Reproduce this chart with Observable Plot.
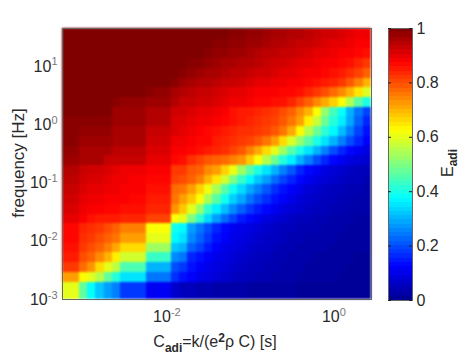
<!DOCTYPE html>
<html><head><meta charset="utf-8">
<script src="https://cdn.jsdelivr.net/npm/d3@7"></script>
<script src="https://cdn.jsdelivr.net/npm/@observablehq/plot@0.6"></script>
<style>
html,body{margin:0;padding:0;background:#fff}
#wrap{position:relative;width:474px;height:356px;overflow:hidden}
#wrap svg{position:absolute;left:0;top:0;background:transparent;overflow:visible}
</style></head><body><div id="wrap"></div>
<script>
// log10 of the cell edges
const cadiLogEdges = [-3.25,-3.15,-3.05,-2.95,-2.85,-2.75,-2.65,-2.55,-2.45,-2.35,-2.25,-2.15,-2.05,-1.95,-1.85,-1.75,-1.65,-1.55,-1.45,-1.35,-1.25,-1.15,-1.05,-0.95,-0.85,-0.75,-0.65,-0.55,-0.45,-0.35,-0.25,-0.15,-0.05,0.05,0.15,0.25,0.35,0.45];
const freqLogEdges = [1.65,1.467,1.3,1.133,0.967,0.8,0.633,0.467,0.3,0.133,-0.033,-0.2,-0.367,-0.533,-0.7,-0.867,-1.033,-1.2,-1.367,-1.533,-1.7,-1.867,-2.033,-2.2,-2.367,-2.533,-2.7,-3];
// E_adi x 100, one row per frequency band, top to bottom
const r00=[100,100,100,100,100,100,100,100,100,100,100,100,100,100,100,100,100,100,100,100,99,99,98,98,97,96,96,95,95,94,93,92,92,91,90,89,89];
const r01=[100,100,100,100,100,100,100,100,100,100,100,100,100,100,100,100,100,100,99,99,98,98,97,97,96,95,95,94,93,93,92,91,90,90,89,88,88];
const r02=[100,100,100,100,100,100,100,100,100,100,100,100,100,100,100,100,100,99,98,98,97,97,96,95,94,94,93,93,92,91,90,90,89,88,88,87,86];
const r03=[100,100,100,100,100,100,100,100,100,100,100,100,100,100,100,99,99,98,97,96,96,95,95,94,93,92,92,91,90,90,89,88,88,87,86,84,82];
const r04=[100,100,100,100,100,100,100,100,100,100,100,100,100,100,99,98,97,96,96,95,94,94,93,92,92,91,90,90,89,88,88,87,86,85,83,81,78];
const r05=[100,100,100,100,100,100,100,100,100,100,100,100,100,99,97,96,95,95,94,93,93,92,91,90,90,89,89,88,88,87,86,85,84,82,79,75,70];
const r06=[100,100,100,100,100,100,100,100,100,100,99,98,98,96,95,94,93,93,92,91,90,90,89,88,88,88,87,87,86,84,82,80,77,74,70,65,59];
const r07=[100,100,100,100,100,100,99,98,98,98,97,97,97,95,93,93,92,92,91,90,89,89,88,87,87,86,86,84,81,78,74,71,67,62,55,46,40];
const r08=[100,100,100,100,100,100,97,97,97,97,95,95,95,92,92,91,90,90,89,88,86,85,85,84,83,82,80,78,74,70,62,52,44,38,30,24,19];
const r09=[99,99,99,99,99,99,97,97,97,97,95,95,95,91,91,90,89,89,88,87,86,85,84,83,82,81,79,76,72,64,57,48,41,36,29,22,16];
const r10=[99,99,98,98,98,98,96,96,96,96,93,93,93,91,90,89,88,87,86,85,84,83,83,82,81,79,76,71,63,55,48,42,37,31,25,19,14];
const r11=[99,99,97,97,97,97,96,96,96,96,92,92,92,89,89,88,87,87,85,84,83,82,81,79,76,72,66,59,52,46,40,35,30,25,20,16,12];
const r12=[98,98,96,96,96,96,94,94,94,94,91,91,91,88,88,87,86,85,84,83,81,79,75,71,66,60,53,46,40,35,30,25,20,16,13,11,9];
const r13=[97,97,96,96,96,93,93,93,93,93,90,90,90,87,86,83,81,79,78,77,75,73,68,62,55,48,41,36,30,25,20,16,13,11,9,8,7];
const r14=[95,95,93,92,92,91,90,89,89,89,88,88,88,82,82,79,78,74,72,67,61,53,46,40,35,30,25,21,16,13,11,9,8,7,6,5,5];
const r15=[94,94,92,91,91,90,89,89,88,88,87,87,87,81,80,78,75,70,65,58,50,43,37,32,28,23,19,16,13,11,9,8,7,6,5,5,4];
const r16=[93,93,91,90,90,89,89,88,88,88,86,86,86,77,76,72,67,61,54,46,39,34,29,25,21,17,14,12,10,8,7,6,5,5,4,4,3];
const r17=[92,92,90,89,89,88,88,88,87,87,85,85,85,76,72,68,62,54,46,39,33,29,24,20,17,14,12,10,8,7,6,5,5,4,4,3,3];
const r18=[91,91,89,88,88,87,87,86,86,86,84,84,84,73,68,60,52,42,36,31,26,22,18,15,13,11,9,8,7,6,5,5,4,4,3,3,3];
const r19=[90,90,88,86,85,85,85,84,84,84,81,81,81,62,60,50,42,34,28,23,19,15,13,11,9,8,7,6,5,5,4,4,3,3,3,2,2];
const r20=[87,87,84,83,82,80,78,75,75,75,62,62,62,39,37,28,24,20,16,13,11,10,9,8,7,6,5,5,4,4,4,3,3,3,2,2,2];
const r21=[87,87,83,82,80,78,76,72,72,72,60,60,60,37,35,26,22,18,14,12,10,9,8,7,6,6,5,4,4,3,3,3,3,2,2,2,2];
const r22=[86,86,82,80,78,75,71,66,66,66,53,53,53,32,30,22,19,15,12,10,9,8,7,6,6,5,4,4,3,3,3,3,2,2,2,2,2];
const r23=[85,85,80,78,74,70,64,58,58,58,43,43,43,26,24,16,14,12,10,9,8,7,6,5,5,4,4,3,3,3,2,2,2,2,2,1,1];
const r24=[82,82,77,73,66,60,56,45,45,45,30,30,30,20,18,14,12,10,9,8,7,6,5,5,4,4,3,3,3,2,2,2,2,2,1,1,1];
const r25=[72,72,63,60,55,47,41,35,35,35,24,24,24,17,14,12,10,9,8,7,6,5,5,4,4,3,3,3,2,2,2,2,2,1,1,1,1];
const r26=[60,60,47,38,32,28,25,18,18,18,11,11,11,7,5,5,4,4,3,3,3,3,2,2,2,2,2,2,1,1,1,1,1,1,1,1,1];
const rows=[r00,r01,r02,r03,r04,r05,r06,r07,r08,r09,r10,r11,r12,r13,r14,r15,r16,r17,r18,r19,r20,r21,r22,r23,r24,r25,r26];

const xTicks=[0.01,1];
const yTicks=[10,1,0.1,0.01,0.001];
const barTicks=[0,0.2,0.4,0.6,0.8,1];
const jetStops=[0,0.125,0.375,0.625,0.875,1];
const jetColors=["#00008f","#0000ff","#00ffff","#ffff00","#ff0000","#800000"];

const FONT='"Liberation Sans",Arial,sans-serif', INK="#2a2a2a", EDGE="#666";
const colorScale={type:"linear",domain:jetStops,range:jetColors,clamp:true};

const cells=[];
rows.forEach((row,i)=>row.forEach((v,j)=>cells.push({
  x1:10**cadiLogEdges[j],x2:10**cadiLogEdges[j+1],
  y1:10**freqLogEdges[i+1],y2:10**freqLogEdges[i],e:v/100})));

const pow=d=>"10^"+Math.round(Math.log10(d));
const main=Plot.plot({
  width:474,height:356,marginLeft:62,marginRight:103,marginTop:28,marginBottom:57,
  style:{background:"transparent",fontFamily:FONT,fontSize:"16px",color:INK},
  x:{type:"log",domain:[10**-3.25,10**0.45]},
  y:{type:"log",domain:[10**-3,10**1.65]},
  color:colorScale,
  marks:[
    Plot.rect(cells,{x1:"x1",x2:"x2",y1:"y1",y2:"y2",fill:"e",shapeRendering:"crispEdges"}),
    Plot.frame({stroke:EDGE}),
    Plot.axisX({ticks:xTicks,tickFormat:pow,tickSize:0,tickPadding:11,label:null,fontSize:16,fill:INK}),
    Plot.axisY({ticks:yTicks,tickFormat:pow,tickSize:0,tickPadding:5,label:null,fontSize:16,fill:INK})
  ]
});

// colour bar
const levels=d3.range(64).map(i=>({y1:i/64,y2:(i+1)/64,e:(i+0.5)/64}));
const bar=Plot.plot({
  width:474,height:356,marginLeft:388,marginRight:62,marginTop:28,marginBottom:56,
  style:{background:"transparent",fontFamily:FONT,fontSize:"16px",color:INK},
  x:{domain:[0,1],axis:null},
  y:{domain:[0,1]},
  color:colorScale,
  marks:[
    Plot.rect(levels,{x1:0,x2:1,y1:"y1",y2:"y2",fill:"e",shapeRendering:"crispEdges"}),
    Plot.frame({stroke:EDGE}),
    Plot.ruleY(barTicks,{stroke:"#222",insetRight:21}),
    Plot.ruleY(barTicks,{stroke:"#222",insetLeft:21}),
    Plot.axisY({anchor:"right",ticks:barTicks,tickFormat:d=>String(d),tickSize:0,tickPadding:4,label:null,fontSize:16,fill:INK})
  ]
});

const wrap=document.getElementById("wrap");
wrap.append(main,bar);

// soften the cell edges like the scanned original
d3.select(main).selectAll('g[aria-label="rect"]').style("filter","blur(0.8px)");

// real superscripts on the decade tick labels
d3.select(main).selectAll("text").each(function(){
  const t=this.textContent;
  if(!/^10\^/.test(t))return;
  const s=d3.select(this).text("10");
  s.append("tspan").attr("dy","-0.55em").attr("font-size","11px").attr("fill","#777").text(t.slice(3));
});

function label(svg,x,y,rot,size,parts){
  const t=d3.select(svg).append("text")
    .attr("transform",`translate(${x},${y}) rotate(${rot})`)
    .attr("text-anchor","middle").attr("fill",INK)
    .attr("font-family",FONT).attr("font-size",size);
  let prev=0;
  parts.forEach(([txt,shift,sz,weight])=>{
    const sp=t.append("tspan").attr("dy",shift-prev).text(txt);
    if(sz)sp.attr("font-size",sz);
    if(weight)sp.attr("font-weight",weight);
    prev=shift;
  });
}
label(main,215,347,0,16,[["C",0],["adi",5,12,"bold"],["=k/(e",0],["2",-5,12,"bold"],["\u03c1 C) [s]",0]]);
label(main,24,163,-90,17,[["frequency [Hz]",0]]);
label(bar,453,163,-90,16,[["E",0],["adi",4,12,"bold"]]);
</script></body></html>
